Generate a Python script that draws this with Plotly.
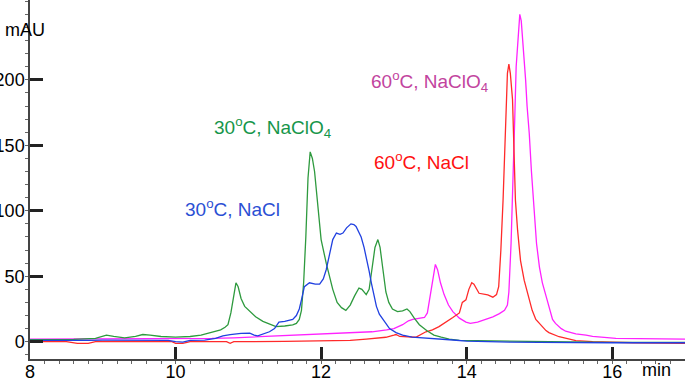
import plotly.graph_objects as go

# ---- data (time in min, absorbance in mAU) ----
green_t = [8.0, 8.3, 8.6, 8.9, 9.0, 9.05, 9.15, 9.3, 9.45, 9.55, 9.65, 9.8, 10.0, 10.2, 10.35, 10.45, 10.55,
           10.62, 10.68, 10.72, 10.76, 10.8, 10.83, 10.86, 10.9, 10.95, 11.02, 11.1, 11.2, 11.3, 11.38, 11.5,
           11.61, 11.66, 11.7, 11.73, 11.76, 11.79, 11.82, 11.85, 11.88, 11.91, 11.95, 12.0, 12.07, 12.12,
           12.16, 12.22, 12.28, 12.34, 12.4, 12.46, 12.52, 12.56, 12.62, 12.66, 12.7, 12.74, 12.78, 12.81,
           12.85, 12.89, 12.93, 12.98, 13.05, 13.12, 13.18, 13.22, 13.28, 13.35, 13.45, 13.55, 13.65, 13.76,
           13.9, 14.2, 14.5, 14.86, 15.2, 16.0, 17.0]
green_v = [1.5, 1.5, 1.8, 2.5, 4.5, 5.0, 4.0, 3.0, 4.0, 5.5, 5.0, 4.0, 3.5, 4.0, 5.0, 6.5, 8.0,
           9.0, 11.0, 13.0, 22.0, 36.0, 45.0, 42.0, 33.0, 27.0, 23.0, 19.0, 15.5, 13.0, 11.5, 12.0,
           12.8, 14.0, 17.0, 24.0, 45.0, 80.0, 125.0, 145.0, 140.0, 130.0, 105.0, 78.0, 60.0, 48.0,
           40.0, 30.0, 26.0, 24.0, 28.0, 35.0, 41.0, 40.0, 36.0, 40.0, 58.0, 72.0, 78.0, 72.0,
           55.0, 38.0, 30.0, 25.0, 23.0, 23.5, 25.0, 23.0, 18.0, 13.0, 8.5, 5.0, 3.5, 2.0,
           1.0, 0.8, 0.6, 0.5, 0.0, -0.5, -0.5]

blue_t = [8.0, 8.4, 8.6, 8.8, 9.0, 9.3, 9.6, 9.9, 10.0, 10.1, 10.2, 10.4, 10.55, 10.65, 10.75, 10.9, 11.02,
          11.08, 11.13, 11.2, 11.29, 11.36, 11.42, 11.5, 11.61, 11.66, 11.7, 11.73, 11.77, 11.84, 11.92,
          11.98, 12.03, 12.07, 12.12, 12.16, 12.21, 12.26, 12.3, 12.35, 12.41, 12.45, 12.48, 12.52, 12.55,
          12.59, 12.62, 12.66, 12.69, 12.73, 12.76, 12.8, 12.89, 12.94, 13.03, 13.12, 13.25, 13.44, 13.6,
          13.81, 14.0, 14.3, 14.6, 15.0, 15.5, 16.0, 17.0]
blue_v = [1.0, 1.0, 0.5, 1.0, 1.2, 1.0, 1.3, 1.0, 0.0, -0.3, 1.0, 1.2, 2.5, 4.5, 5.5, 6.4, 6.5,
          5.0, 4.5, 6.0, 7.6, 10.0, 15.0, 15.5, 17.0, 20.0, 25.0, 32.0, 42.0, 45.0, 44.0,
          44.0, 48.0, 55.0, 68.0, 78.0, 83.0, 82.0, 83.0, 87.0, 90.0, 89.5, 88.0, 84.0, 80.0,
          72.0, 65.0, 54.0, 45.0, 33.0, 27.0, 21.0, 14.0, 10.0, 7.0, 5.0, 3.5, 2.6, 1.8,
          1.3, 0.5, 0.0, -0.3, -0.5, -0.8, -0.8, -0.8]

magenta_t = [8.0, 8.5, 9.0, 9.5, 10.0, 10.5, 10.8, 11.2, 11.6, 12.0, 12.3, 12.7, 12.9, 13.0, 13.12, 13.2,
             13.26, 13.35, 13.42, 13.46, 13.5, 13.54, 13.57, 13.6, 13.64, 13.69, 13.75, 13.81, 13.9, 13.99,
             14.05, 14.15, 14.26, 14.36, 14.45, 14.52, 14.56, 14.58, 14.61, 14.63, 14.66, 14.68, 14.71,
             14.73, 14.75, 14.77, 14.79, 14.81, 14.83, 14.86, 14.89, 14.93, 14.96, 15.0, 15.04, 15.09,
             15.14, 15.18, 15.22, 15.3, 15.36, 15.5, 15.64, 15.73, 16.05, 16.5, 17.0]
magenta_v = [2.0, 2.0, 2.0, 2.0, 2.2, 2.5, 3.0, 4.0, 5.0, 5.5, 6.4, 7.6, 9.0, 10.0, 13.0, 16.0,
             17.0, 18.0, 18.5, 22.0, 36.0, 52.0, 59.0, 55.0, 45.0, 36.0, 28.0, 23.0, 18.0, 15.0,
             14.0, 15.0, 17.0, 19.0, 21.5, 24.0, 28.0, 38.0, 75.0, 108.0, 169.0, 210.0, 240.0,
             250.0, 245.0, 230.0, 220.0, 200.0, 180.0, 159.0, 130.0, 96.0, 75.0, 57.0, 45.0, 35.0,
             24.0, 17.0, 14.0, 10.0, 8.0, 6.0, 5.0, 4.0, 2.6, 2.2, 2.0]

red_t = [8.0, 8.5, 8.65, 8.8, 8.9, 9.5, 9.95, 10.0, 10.1, 10.2, 10.7, 10.75, 10.8, 11.5, 12.0, 12.4,
         12.62, 12.75, 12.89, 13.0, 13.03, 13.08, 13.12, 13.3, 13.44, 13.53, 13.62, 13.72, 13.81, 13.9,
         13.94, 13.99, 14.03, 14.07, 14.1, 14.17, 14.24, 14.29, 14.36, 14.41, 14.44, 14.47, 14.5, 14.54,
         14.56, 14.58, 14.6, 14.63, 14.66, 14.67, 14.7, 14.74, 14.79, 14.84, 14.9, 14.95, 15.0, 15.09,
         15.13, 15.27, 15.5, 15.73, 16.28, 17.0]
red_v = [0.0, 0.0, -1.3, -1.3, 0.0, 0.0, 0.0, -1.2, -1.2, 0.0, 0.0, -1.2, 0.0, 0.3, 0.5, 1.0,
         2.0, 2.5, 3.4, 5.0, 5.5, 4.0, 3.8, 3.4, 7.6, 9.0, 11.5, 15.0, 18.5, 22.0,
         30.0, 32.0, 40.0, 45.0, 44.0, 37.0, 36.0, 35.7, 34.0, 36.0, 42.0, 70.0, 108.0, 185.0,
         205.0, 212.0, 205.0, 185.0, 130.0, 108.0, 85.0, 62.0, 47.0, 36.0, 24.0, 17.0, 14.0, 8.5,
         7.0, 3.8, 0.8, 0.0, -0.8, -1.2]

x_ticks = [8, 10, 12, 14, 16]
y_ticks = [0, 50, 100, 150, 200]

FONT = "Liberation Sans, Arial, sans-serif"

fig = go.Figure()
for t, v, c in [(magenta_t, magenta_v, "#ff22ff"),
                (red_t, red_v, "#ff2a2a"),
                (green_t, green_v, "#2e9a3e"),
                (blue_t, blue_v, "#2040e0")]:
    fig.add_trace(go.Scatter(x=t, y=v, mode="lines", line=dict(color=c, width=1.3),
                             showlegend=False, hoverinfo="skip"))

labels = [
    ("30<sup>o</sup>C, NaClO<sub>4</sub>", 0.2779, 0.6435, "#16964a"),
    ("30<sup>o</sup>C, NaCl", 0.2331, 0.4198, "#2b4fd4"),
    ("60<sup>o</sup>C, NaClO<sub>4</sub>", 0.518, 0.7724, "#c2449e"),
    ("60<sup>o</sup>C, NaCl", 0.5217, 0.5515, "#ff1010"),
]
for text, px, py, col in labels:
    fig.add_annotation(text=text, x=px, y=py, xref="paper", yref="paper", showarrow=False,
                       xanchor="left", yanchor="middle", font=dict(family=FONT, size=19, color=col))

fig.add_annotation(text="mAU", x=-0.0412, y=0.9164, xref="paper", yref="paper", showarrow=False,
                   xanchor="left", yanchor="middle", font=dict(family=FONT, size=18, color="black"))
fig.add_annotation(text="min", x=0.9313, y=-0.03, xref="paper", yref="paper", showarrow=False,
                   xanchor="left", yanchor="middle", font=dict(family=FONT, size=18, color="black"))

fig.update_layout(
    width=685, height=379,
    margin=dict(l=30, r=0, t=0, b=20),
    paper_bgcolor="white", plot_bgcolor="white",
    font=dict(family=FONT, size=18, color="black"),
    xaxis=dict(range=[8, 17], automargin=False, showgrid=False, zeroline=False, showline=True,
               linecolor="#444", linewidth=1.5, ticks="inside", ticklen=12, tickwidth=2.5,
               tickcolor="#222", tickvals=x_ticks, ticktext=[str(v) for v in x_ticks],
               ticklabelstandoff=-4,
               tickfont=dict(family=FONT, size=18, color="black"),
               minor=dict(ticks="outside", ticklen=3, dtick=0.2, tickcolor="#666", tickwidth=1)),
    yaxis=dict(range=[-13.2, 261], automargin=False, showgrid=False, zeroline=False, showline=True,
               linecolor="#444", linewidth=1.5, ticks="inside", ticklen=13, tickwidth=2.5,
               tickcolor="#222", tickvals=y_ticks, ticktext=[str(v) for v in y_ticks],
               tickfont=dict(family=FONT, size=18, color="black"),
               minor=dict(ticks="outside", ticklen=3, dtick=10, tickcolor="#666", tickwidth=1)),
)

fig.write_html("out.html", config={"displayModeBar": False},
               post_script="document.body.style.margin='0';document.body.style.overflow='hidden';")
